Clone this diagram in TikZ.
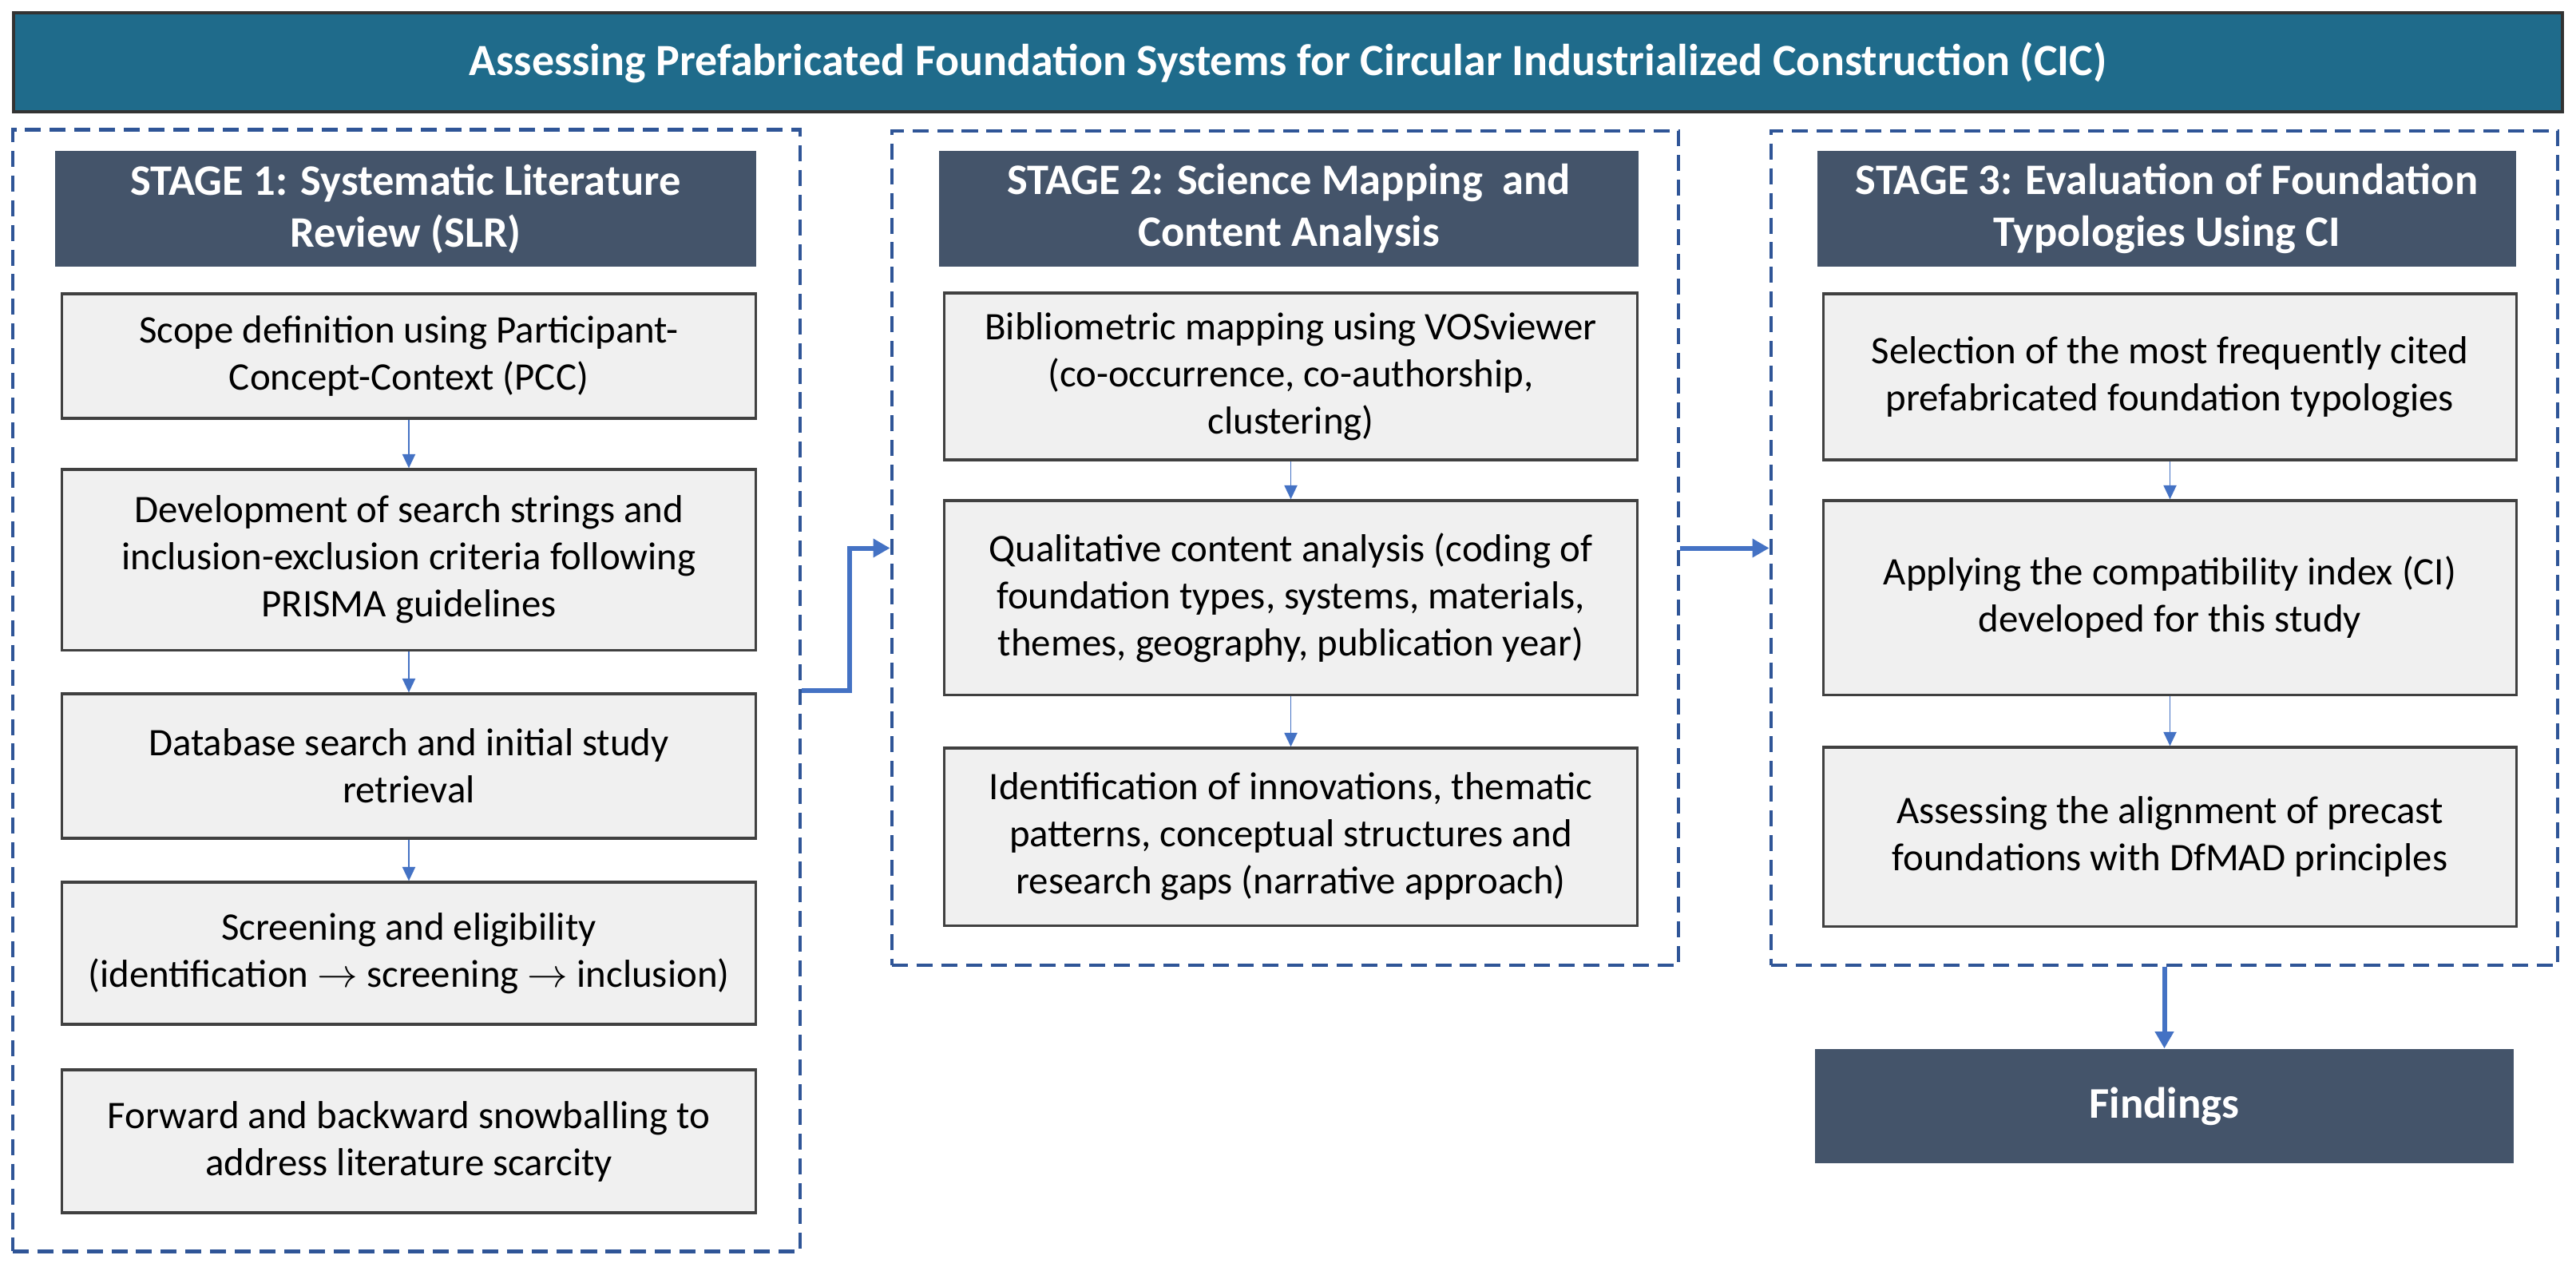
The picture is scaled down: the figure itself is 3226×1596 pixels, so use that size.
\documentclass[tikz,border=0pt]{standalone}
\usepackage{fontspec}
\setmainfont{Carlito}
\usepackage{tikz}
\usetikzlibrary{arrows.meta}
\definecolor{cic_teal}{RGB}{31,107,139}
\definecolor{cic_slate}{RGB}{68,84,106}
\definecolor{cic_navy}{RGB}{47,85,151}
\definecolor{cic_blue}{RGB}{68,114,196}
\definecolor{cic_grey}{RGB}{240,240,240}

\begin{document}
\begin{tikzpicture}[x=0.01cm, y=-0.01cm,
    frame/.style={draw=cic_navy, line width=1.2pt, dash pattern=on 5.7pt off 3.1pt},
    head/.style={fill=cic_slate, text=white, align=center, inner sep=0pt,
      font=\fontsize{15.5}{18.5}\selectfont\bfseries},
    task/.style={fill=cic_grey, draw=black!75, line width=0.9pt, align=center,
      inner sep=0pt, minimum width=8.68cm, font=\fontsize{13.9}{16.8}\selectfont},
    link/.style={cic_blue, line width=0.55pt, -{Triangle[length=5pt,width=4.6pt]}},
    flow/.style={cic_blue, line width=1.7pt, -{Triangle[length=6pt,width=6.4pt]}}]
  \useasboundingbox (0,0) rectangle (3226,1596);

  \node[fill=cic_teal, draw=black!80, line width=0.9pt, text=white,
    minimum width=31.9cm, minimum height=1.24cm,
    font=\fontsize{15.9}{19}\selectfont\bfseries] (title) at (1613,78)
    {Assessing Prefabricated Foundation Systems for Circular Industrialized Construction (CIC)};

  \node[frame, minimum width=9.86cm, minimum height=14.04cm] (stg1) at (509,865) {};
  \node[frame, minimum width=9.85cm, minimum height=10.45cm] (stg2) at (1609.5,686.5) {};
  \node[frame, minimum width=9.85cm, minimum height=10.45cm] (stg3) at (2710.5,686.5) {};

  \node[head, minimum width=8.78cm, minimum height=1.45cm] (hd1) at (508,261.5)
    {STAGE 1: Systematic Literature\\Review (SLR)};
  \node[head, minimum width=8.76cm, minimum height=1.45cm] (hd2) at (1614,261.5)
    {STAGE 2: Science Mapping~ and\\Content Analysis};
  \node[head, minimum width=8.74cm, minimum height=1.45cm] (hd3) at (2713.5,261.5)
    {STAGE 3: Evaluation of Foundation\\Typologies Using CI};

  \node[task, minimum height=1.56cm] (s1a) at (512,446)
    {Scope definition using Participant-\\Concept-Context (PCC)};
  \node[task, minimum height=2.26cm] (s1b) at (512,701)
    {Development of search strings and\\inclusion-exclusion criteria following\\PRISMA guidelines};
  \node[task, minimum height=1.81cm] (s1c) at (512,959.5)
    {Database search and initial study\\retrieval};
  \node[task, minimum height=1.78cm] (s1d) at (512,1194)
    {Screening and eligibility\\(identification $\rightarrow$ screening $\rightarrow$ inclusion)};
  \node[task, minimum height=1.79cm] (s1e) at (512,1429.5)
    {Forward and backward snowballing to\\address literature scarcity};

  \node[task, minimum height=2.09cm] (s2a) at (1616.5,471.5)
    {Bibliometric mapping using VOSviewer\\(co-occurrence, co-authorship,\\clustering)};
  \node[task, minimum height=2.43cm] (s2b) at (1616.5,748.5)
    {Qualitative content analysis (coding of\\foundation types, systems, materials,\\themes, geography, publication year)};
  \node[task, minimum height=2.22cm] (s2c) at (1616.5,1048)
    {Identification of innovations, thematic\\patterns, conceptual structures and\\research gaps (narrative approach)};

  \node[task, minimum height=2.08cm] (s3a) at (2717.5,472)
    {Selection of the most frequently cited\\prefabricated foundation typologies};
  \node[task, minimum height=2.43cm] (s3b) at (2717.5,748.5)
    {Applying the compatibility index (CI)\\developed for this study};
  \node[task, minimum height=2.24cm] (s3c) at (2717.5,1048)
    {Assessing the alignment of precast\\foundations with DfMAD principles};

  \node[head, minimum width=8.74cm, minimum height=1.43cm,
    font=\fontsize{15.6}{18.5}\selectfont\bfseries] (findings) at (2710.5,1385.5) {Findings};

  \draw[link] (s1a) -- (s1b);
  \draw[link] (s1b) -- (s1c);
  \draw[link] (s1c) -- (s1d);
  \draw[link] (s2a) -- (s2b);
  \draw[link] (s2b) -- (s2c);
  \draw[link] (s3a) -- (s3b);
  \draw[link] (s3b) -- (s3c);

  \draw[flow] (stg1.east) -- ++(60,0) |- (stg2.west);
  \draw[flow] (stg2.east) -- (stg3.west);
  \draw[flow] (stg3.south) -- (findings.north);
\end{tikzpicture}
\end{document}
